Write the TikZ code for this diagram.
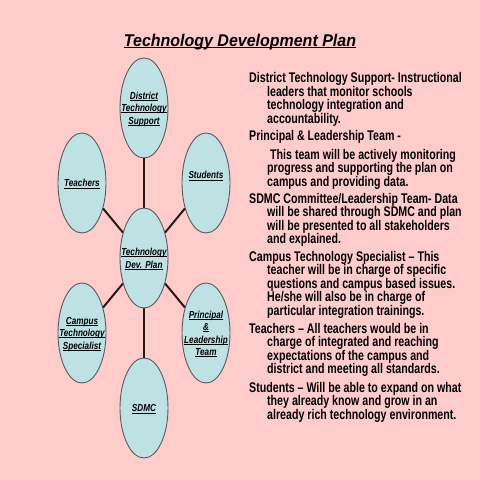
\documentclass[tikz,border=0pt]{standalone}
\usepackage{fontspec}
\setmainfont{Liberation Sans}
\newfontfamily\ttlfont[FakeStretch=0.94]{Liberation Sans}
\newfontfamily\bodyfont[FakeStretch=0.76]{Liberation Sans}
\newfontfamily\elfont[FakeStretch=0.8]{Liberation Sans}
\usetikzlibrary{shapes.geometric}
\definecolor{bgpink}{RGB}{255,204,204}
\definecolor{elfill}{RGB}{190,226,228}
\definecolor{elline}{RGB}{90,90,90}
\definecolor{conn}{RGB}{40,25,25}
\newcommand\myul[1]{\leavevmode\setbox0\hbox{#1}\rlap{\rule[-0.14em]{\wd0}{0.075em}}\box0}
\begin{document}
\begin{tikzpicture}[x=1pt,y=-1pt,
  bubble/.style={ellipse,draw=elline,line width=0.9pt,fill=elfill,minimum width=48pt,minimum height=100pt,inner sep=0pt},
  btext/.style={font=\elfont\bfseries\itshape\fontsize{10.2}{12.5}\selectfont,align=center,inner sep=0pt},
  para/.style={anchor=base west,inner sep=0pt,font=\bodyfont\bfseries\fontsize{14}{13.6}\selectfont},
  link/.style={draw=conn,line width=2pt}]
\fill[bgpink] (0,0) rectangle (480,480);
\useasboundingbox (0,0) rectangle (480,480);

% title
\node[anchor=base,inner sep=0pt,font=\ttlfont\bfseries\itshape\fontsize{17}{20}\selectfont] (title) at (240,46) {\myul{Technology Development Plan}};

% ellipses
\node[bubble] (dts) at (144,108) {};
\node[bubble] (tea) at (82,183) {};
\node[bubble] (stu) at (206,183) {};
\node[bubble] (tdp) at (144,258) {};
\node[bubble] (cts) at (82,333) {};
\node[bubble] (plt) at (206,333) {};
\node[bubble] (sdmc) at (144,408) {};

% connectors
\draw[link] (tdp) -- (dts);
\draw[link] (tdp) -- (tea);
\draw[link] (tdp) -- (stu);
\draw[link] (tdp) -- (cts);
\draw[link] (tdp) -- (plt);
\draw[link] (tdp) -- (sdmc);

% ellipse texts
\node[btext] (tdts) at (144,109) {\myul{District}\\\myul{Technology}\\\myul{Support}};
\node[btext] (ttea) at (82,184) {\myul{Teachers}};
\node[btext] (tstu) at (206,176) {\myul{Students}};
\node[btext] (ttdp) at (144,259) {\myul{Technology}\\\myul{Dev. Plan}};
\node[btext] (tcts) at (82,334) {\myul{Campus}\\\myul{Technology}\\\myul{Specialist}};
\node[btext] (tplt) at (206,334) {\myul{Principal}\\\myul{\&}\\\myul{Leadership}\\\myul{Team}};
\node[btext] (tsdmc) at (144,409) {\myul{SDMC}};

% right-hand text
\node[para] (p1) at (249,82.5) {\parbox[t]{228pt}{\hyphenpenalty=10000\hangindent=18pt\hangafter=1
District Technology Support- Instructional\\
leaders that monitor schools\\
technology integration and\\
accountability.}};
\node[para] (p2) at (249,140) {\parbox[t]{228pt}{\hyphenpenalty=10000\hangindent=18pt\hangafter=1
Principal \& Leadership Team -\\[5.4pt]
\hspace*{3pt}This team will be actively monitoring\\
progress and supporting the plan on\\
campus and providing data.}};
\node[para] (p3) at (249,203) {\parbox[t]{228pt}{\hyphenpenalty=10000\hangindent=18pt\hangafter=1
SDMC Committee/Leadership Team- Data\\
will be shared through SDMC and plan\\
will be presented to all stakeholders\\
and explained.}};
\node[para] (p4) at (249,261) {\parbox[t]{228pt}{\hyphenpenalty=10000\hangindent=18pt\hangafter=1
Campus Technology Specialist – This\\
teacher will be in charge of specific\\
questions and campus based issues.\\
He/she will also be in charge of\\
particular integration trainings.}};
\node[para] (p5) at (249,333) {\parbox[t]{228pt}{\hyphenpenalty=10000\hangindent=18pt\hangafter=1
Teachers – All teachers would be in\\
charge of integrated and reaching\\
expectations of the campus and\\
district and meeting all standards.}};
\node[para] (p6) at (249,392) {\parbox[t]{228pt}{\hyphenpenalty=10000\hangindent=18pt\hangafter=1
Students – Will be able to expand on what\\
they already know and grow in an\\
already rich technology environment.}};
\end{tikzpicture}
\end{document}
